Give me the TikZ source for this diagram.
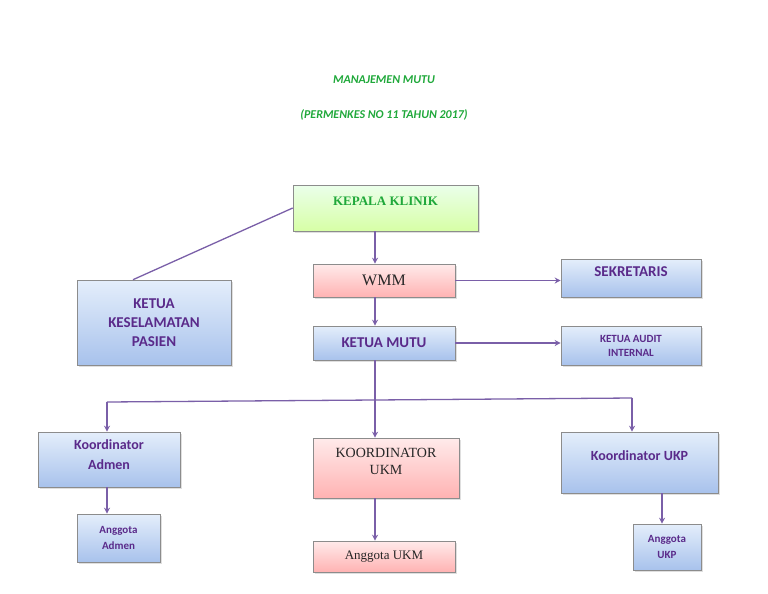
\documentclass[tikz,border=0pt]{standalone}
\usepackage{fontspec}
\setmainfont{Carlito}
\newfontfamily\srf{Liberation Serif}
\usetikzlibrary{arrows.meta,shadows}
\definecolor{pur}{HTML}{7A5FA8}
\definecolor{txt}{HTML}{5A2A8A}
\definecolor{grn}{HTML}{1FA83A}
\definecolor{bt}{HTML}{E4EEFB}
\definecolor{bb}{HTML}{A8C2EC}
\begin{document}
\begin{tikzpicture}[x=1pt,y=-1pt,
 bx/.style={draw=black!45,line width=0.6pt,inner sep=2pt,align=center,drop shadow={opacity=0.25,shadow xshift=1.5pt,shadow yshift=-1.5pt}},
 blue/.style={bx,top color=bt,bottom color=bb,text=txt,font=\bfseries},
 red/.style={bx,top color=red!8!white,bottom color=red!30!white,text=black!85,font=\srf},
 green/.style={bx,top color=green!8!white,bottom color=green!45!yellow!35!white,text=grn,font=\srf\bfseries},
 ar/.style={draw=pur,line width=1.3pt,-{Stealth[length=6pt,width=6pt]}},
 ln/.style={draw=pur,line width=1.3pt}]
\useasboundingbox (0,0) rectangle (768,594);
\node[text=grn,font=\bfseries\itshape\fontsize{12}{14}\selectfont] (t1) at (384,80) {MANAJEMEN MUTU};
\node[text=grn,font=\bfseries\itshape\fontsize{12}{14}\selectfont] (t2) at (384,115) {(PERMENKES NO 11 TAHUN 2017)};
\node[green,minimum width=185pt,minimum height=46pt] (kep) at (385.5,208) {};
\node[text=grn,font=\srf\bfseries\fontsize{13}{15}\selectfont] at (385.5,201) {KEPALA KLINIK};
\node[red,minimum width=142pt,minimum height=33pt,font=\srf\fontsize{16}{18}\selectfont] (wmm) at (384,280.5) {WMM};
\node[blue,minimum width=140pt,minimum height=38pt] (sek) at (631,278) {};
\node[text=txt,font=\bfseries\fontsize{15}{17}\selectfont] at (631,272) {SEKRETARIS};
\node[blue,minimum width=154pt,minimum height=85pt,font=\bfseries\fontsize{15}{19}\selectfont] (kes) at (154,322.5) {KETUA\\KESELAMATAN\\PASIEN};
\node[blue,minimum width=142pt,minimum height=34pt,font=\bfseries\fontsize{15}{17}\selectfont] (mut) at (384,343) {KETUA MUTU};
\node[blue,minimum width=140pt,minimum height=39pt,font=\bfseries\fontsize{11}{14}\selectfont] (aud) at (631,345.5) {KETUA AUDIT\\INTERNAL};
\node[blue,minimum width=142pt,minimum height=55pt] (adm) at (109,459.5) {};
\node[text=txt,align=center,font=\bfseries\fontsize{14}{20}\selectfont] at (109,455) {Koordinator\\Admen};
\node[red,minimum width=146pt,minimum height=60pt] (ukm) at (386,468) {};
\node[align=center,text=black!85,font=\srf\fontsize{14}{17}\selectfont] at (386,461) {KOORDINATOR\\UKM};
\node[blue,minimum width=157pt,minimum height=61pt] (ukp) at (639.5,462.5) {};
\node[text=txt,font=\bfseries\fontsize{14}{17}\selectfont] at (639.5,456) {Koordinator UKP};
\node[blue,minimum width=83pt,minimum height=48pt,font=\bfseries\fontsize{11}{16}\selectfont] (aadm) at (118.5,538) {Anggota\\Admen};
\node[red,minimum width=142pt,minimum height=31pt,font=\srf\fontsize{13}{15}\selectfont] (aukm) at (384,556.5) {Anggota UKM};
\node[blue,minimum width=68pt,minimum height=46pt,font=\bfseries\fontsize{11}{16}\selectfont] (aukp) at (667,547) {Anggota\\UKP};
\coordinate (hub) at (375,400);
\coordinate (hl) at (107,402);
\coordinate (hr) at (632,398);
\draw[ln] (kep.west) -- (kes.north -| 133,0);
\draw[ar] (kep.south -| 375,0) -- (wmm.north -| 375,0);
\draw[ar] (wmm.east) -- (sek.west |- wmm.east);
\draw[ar] (wmm.south -| 375,0) -- (mut.north -| 375,0);
\draw[ar] (mut.east) -- (aud.west |- mut.east);
\draw[ln] (mut.south -| 375,0) -- (hub);
\draw[ln] (hl) -- (hub) -- (hr);
\draw[ar] (hl) -- (adm.north -| hl);
\draw[ar] (hub) -- (ukm.north -| hub);
\draw[ar] (hr) -- (ukp.north -| hr);
\draw[ar] (adm.south -| 107,0) -- (aadm.north -| 107,0);
\draw[ar] (ukm.south -| 375,0) -- (aukm.north -| 375,0);
\draw[ar] (ukp.south -| 662,0) -- (aukp.north -| 662,0);
\end{tikzpicture}
\end{document}
